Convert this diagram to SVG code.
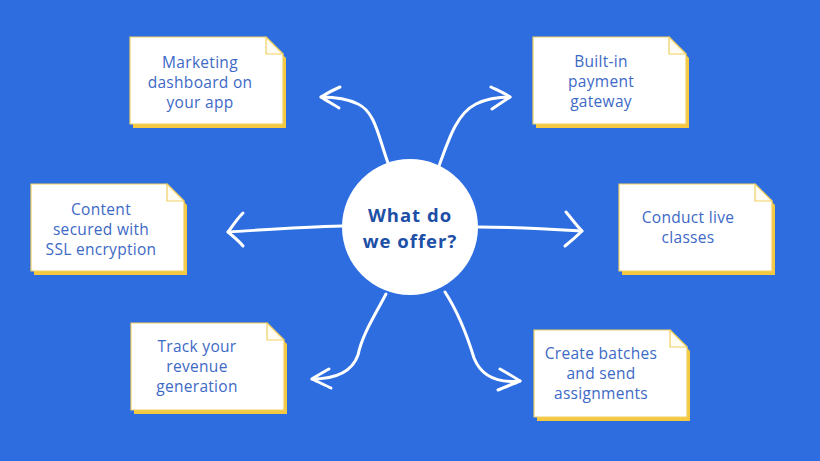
<svg xmlns="http://www.w3.org/2000/svg" xmlns:xlink="http://www.w3.org/1999/xlink" width="820" height="461" viewBox="0 0 820 461">
<style>
.bg{fill:#2d6de0}
.shadow{fill:#f5c842}
.card{fill:#ffffff;stroke:#f1cf63;stroke-width:1.2}
.fold{fill:#fffdf3;stroke:#f1cf63;stroke-width:1.2;stroke-linejoin:round}
.lbl{font-family:"Open Sans","Noto Sans",sans-serif;font-size:15.5px;fill:#3d69c6;text-anchor:middle;letter-spacing:0.3px}
.title{font-family:"Open Sans","Noto Sans",sans-serif;font-size:18.5px;font-weight:bold;fill:#1d4fa6;text-anchor:middle;letter-spacing:1px}
.conn path{fill:none;stroke:#ffffff;stroke-width:3;stroke-linecap:round;stroke-linejoin:round}
</style>
<defs>
<path id="cardShape" d="M0,0 H136 L153,17 V87 H0 Z"/>
<g id="card">
<use xlink:href="#cardShape" href="#cardShape" class="shadow" transform="translate(3,4)"/>
<use xlink:href="#cardShape" href="#cardShape" class="card"/>
<path class="fold" d="M136,0 V17 H153 Z"/>
</g>
</defs>
<rect class="bg" x="0" y="0" width="820" height="461"/>
<g id="connectors" class="conn">
<path d="M342,226 C300,227 262,230 228,232"/>
<path d="M243,213 C236,220 232,227 228,232 C234,237 239,241 243,246"/>
<path d="M478,227 C520,227 550,229 582,231"/>
<path d="M566,212 C572,219 577,226 582,231 C576,237 570,242 565,246"/>
<path d="M388,163 C378,135 375,112 358,104 C348,99 335,97 321,97"/>
<path d="M340,87 C333,90 327,93 321,97 C327,101 333,104 339,108"/>
<path d="M439,166 C450,135 458,113 476,104 C488,98 498,97 510,97"/>
<path d="M491,87 C497,90 504,93 510,97 C504,101 498,105 492,109"/>
<path d="M386,294 C375,315 362,335 358,355 C352,372 335,379 312,379"/>
<path d="M329,369 C323,372 317,376 312,379 C318,382 325,385 331,388"/>
<path d="M445,292 C458,312 467,335 474,358 C482,378 500,383 520,381"/>
<path d="M500,369 C507,373 514,377 520,381 C513,384 505,387 498,390"/>
</g>
<g id="center">
<circle cx="410" cy="227" r="68" fill="#ffffff"/>
<text class="title" x="410" y="222">What do</text>
<text class="title" x="410" y="248">we offer?</text>
</g>
<g id="n-marketing">
<use xlink:href="#card" href="#card" transform="translate(130,37)"/>
<text class="lbl" x="200" y="68">Marketing</text>
<text class="lbl" x="200" y="88">dashboard on</text>
<text class="lbl" x="200" y="108">your app</text>
</g>
<g id="n-payment">
<use xlink:href="#card" href="#card" transform="translate(533,37)"/>
<text class="lbl" x="601" y="67">Built-in</text>
<text class="lbl" x="601" y="87">payment</text>
<text class="lbl" x="601" y="107">gateway</text>
</g>
<g id="n-ssl">
<use xlink:href="#card" href="#card" transform="translate(31,184)"/>
<text class="lbl" x="101" y="215">Content</text>
<text class="lbl" x="101" y="235">secured with</text>
<text class="lbl" x="101" y="255">SSL encryption</text>
</g>
<g id="n-live">
<use xlink:href="#card" href="#card" transform="translate(619,184)"/>
<text class="lbl" x="688" y="223">Conduct live</text>
<text class="lbl" x="688" y="243">classes</text>
</g>
<g id="n-revenue">
<use xlink:href="#card" href="#card" transform="translate(131,323)"/>
<text class="lbl" x="197" y="352">Track your</text>
<text class="lbl" x="197" y="372">revenue</text>
<text class="lbl" x="197" y="392">generation</text>
</g>
<g id="n-batches">
<use xlink:href="#card" href="#card" transform="translate(534,330)"/>
<text class="lbl" x="601" y="359">Create batches</text>
<text class="lbl" x="601" y="379">and send</text>
<text class="lbl" x="601" y="399">assignments</text>
</g>
</svg>
